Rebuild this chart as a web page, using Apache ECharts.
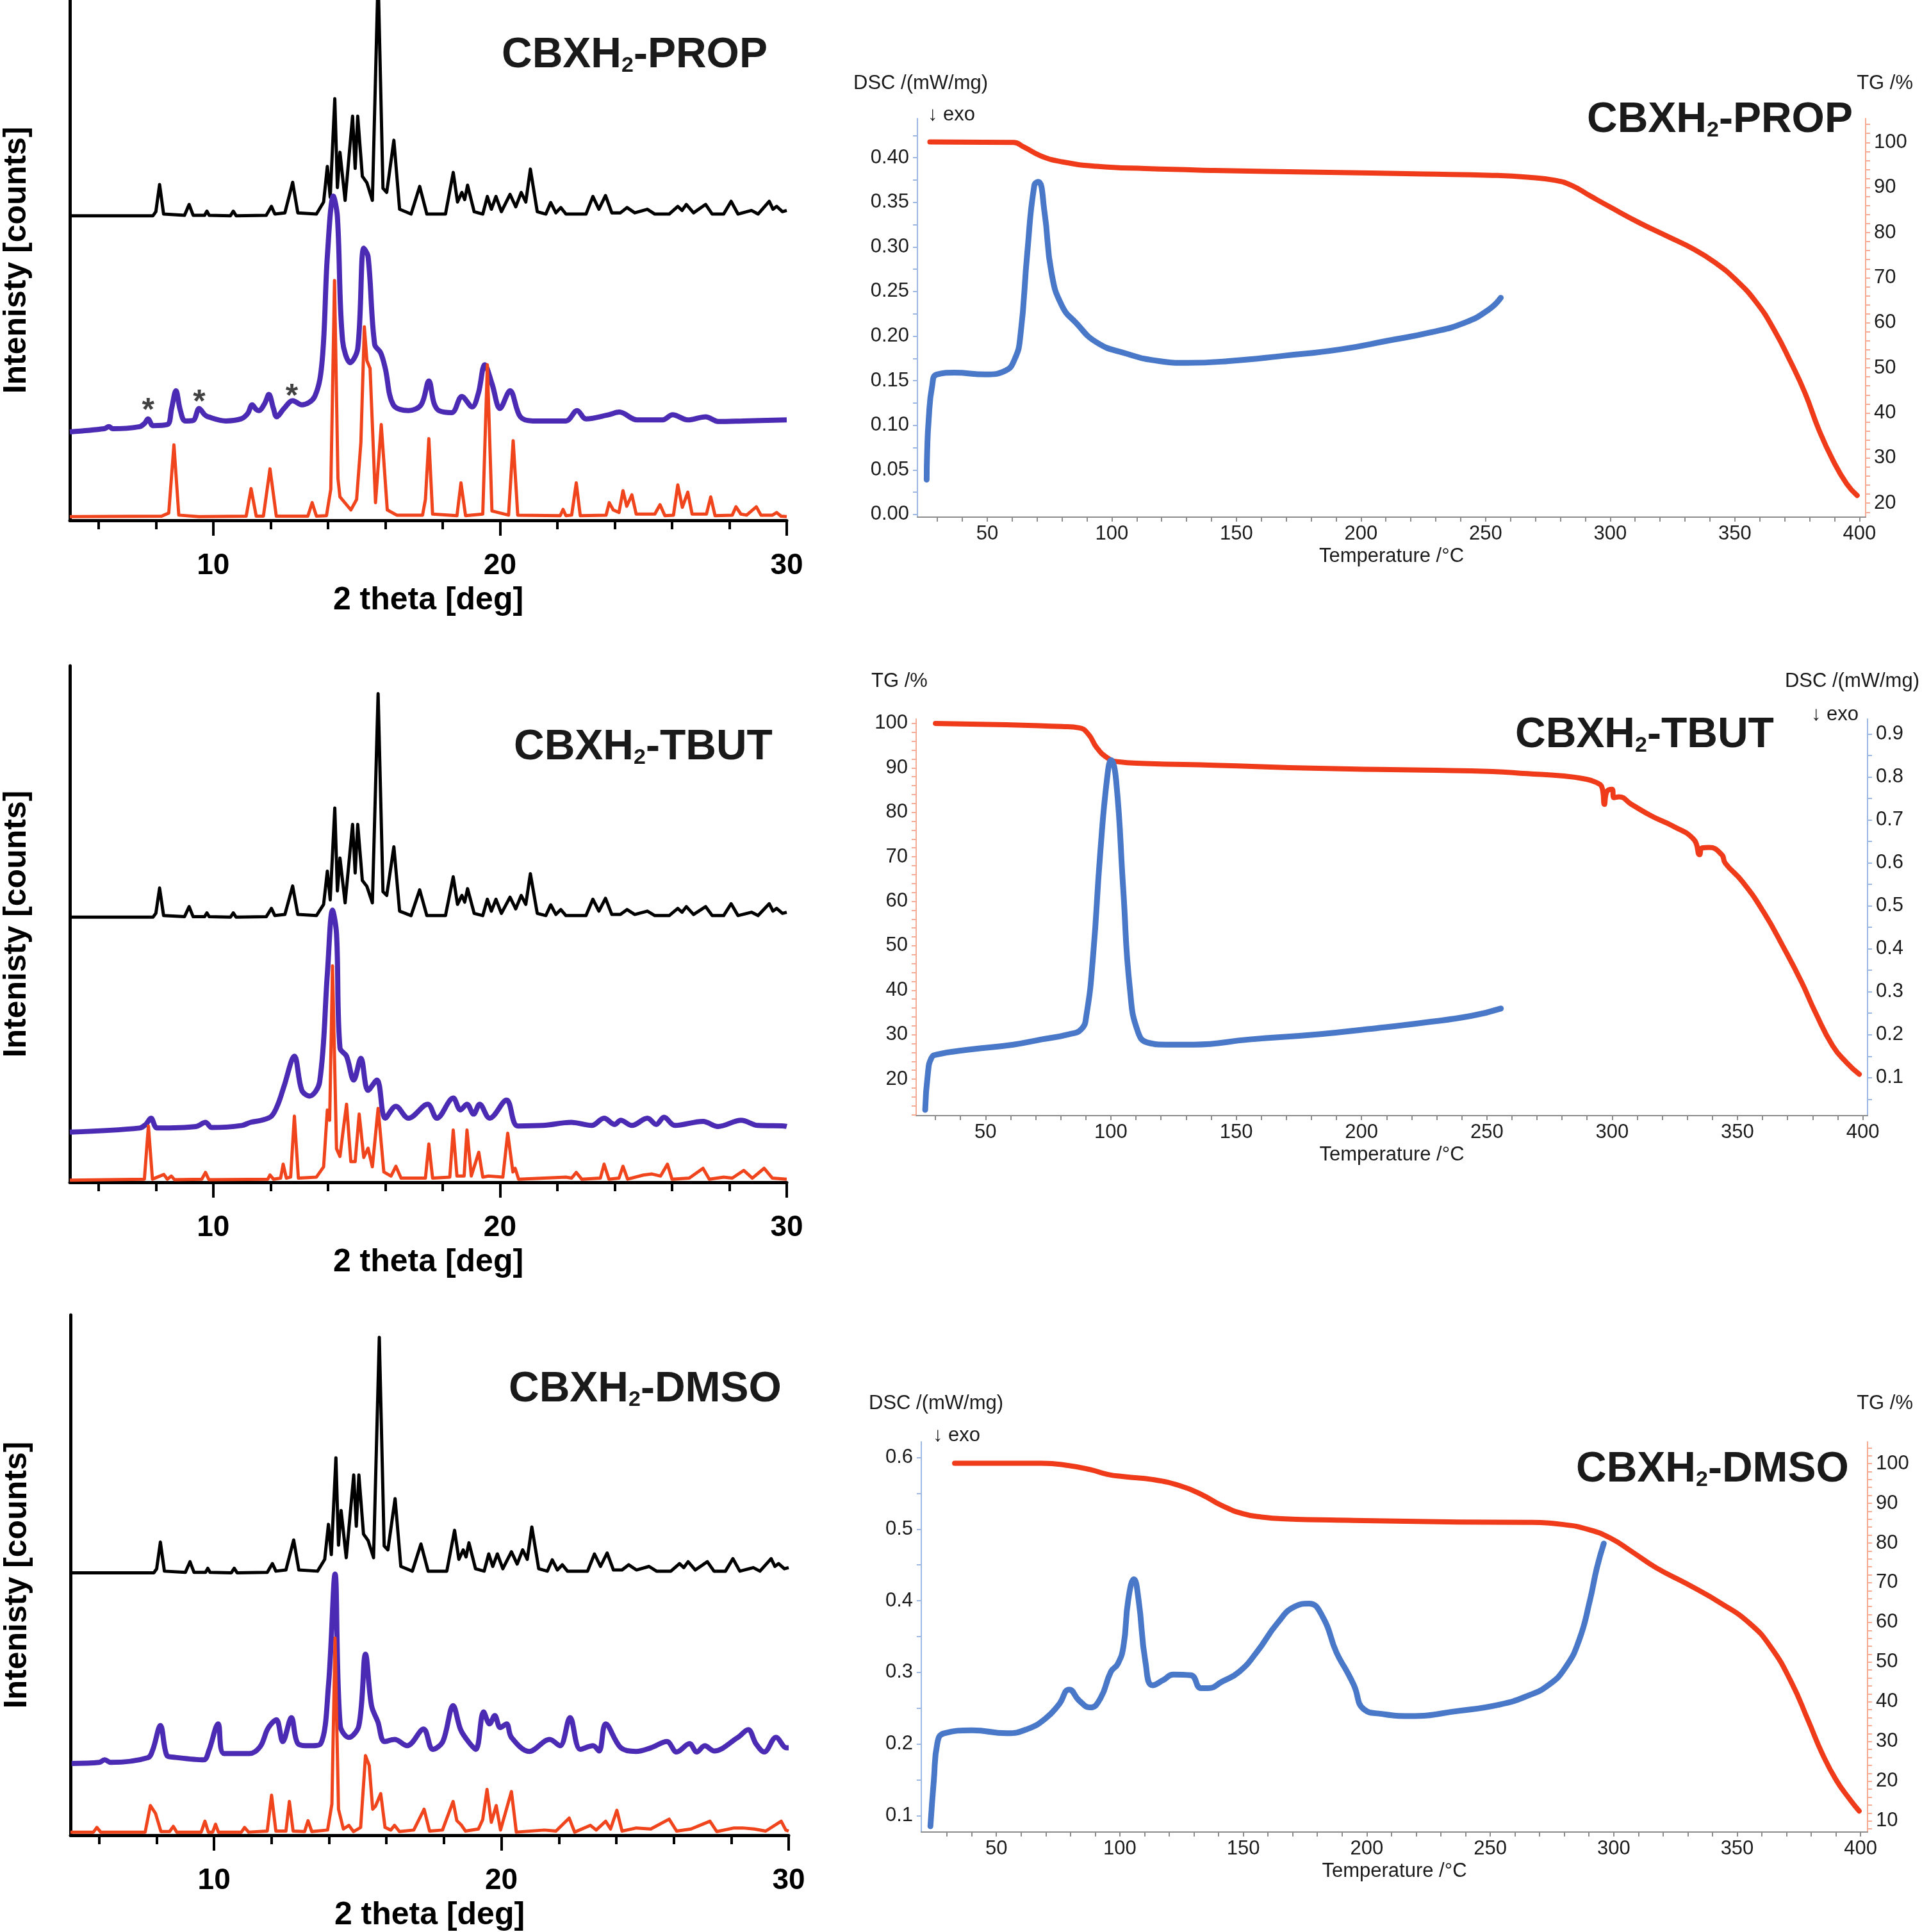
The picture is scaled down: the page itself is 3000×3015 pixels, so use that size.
<!DOCTYPE html>
<html><head><meta charset="utf-8">
<script src="https://cdn.jsdelivr.net/npm/echarts@6/dist/echarts.min.js"></script>
<style>html,body{margin:0;padding:0;background:#fff}#c{width:3000px;height:3015px}</style>
</head><body><div id="c"></div>
<script>
// ---------------- DATA ----------------
// tick labels / tick positions
const xrdMinorTicks = [6,8,10,12,14,16,18,20,22,24,26,28,30];
const xrdMajorTicks = [10,20,30];
const tempLabels = [50,100,150,200,250,300,350,400];
const tempTicks = [30,40,50,60,70,80,90,100,110,120,130,140,150,160,170,180,190,200,210,220,230,240,250,260,270,280,290,300,310,320,330,340,350,360,370,380,390,400];
const dscLabelsProp = [0,0.05,0.10,0.15,0.20,0.25,0.30,0.35,0.40];
const dscLabelsTbut = [0.1,0.2,0.3,0.4,0.5,0.6,0.7,0.8,0.9];
const dscLabelsDmso = [0.1,0.2,0.3,0.4,0.5,0.6];
const tgLabelsProp = [20,30,40,50,60,70,80,90,100];
const tgLabelsTbut = [20,30,40,50,60,70,80,90,100];
const tgLabelsDmso = [10,20,30,40,50,60,70,80,90,100];

// PXRD: reference (black) pattern, intensity relative to its own baseline (top peak = 100)
const blackRef = [[5,0.3],[7.9,0.3],[8.0,2],[8.13,13.3],[8.27,1],[9.0,0.5],[9.16,5],[9.3,0.5],[9.7,0.5],[9.78,2.2],[9.86,0.5],[10.6,0.3],[10.7,2.2],[10.8,0.3],[11.85,0.5],[12.03,4.2],[12.15,1],[12.5,1.5],[12.77,14.2],[12.95,1.5],[13.6,1],[13.85,6],[13.98,20.8],[14.08,8],[14.24,49],[14.33,12],[14.42,26.7],[14.6,6.7],[14.86,41.7],[14.95,20],[15.04,41.7],[15.2,16.7],[15.36,14],[15.55,6.7],[15.75,100],[15.92,11.7],[16.05,10],[16.3,31.7],[16.5,3],[16.9,1],[17.2,12.5],[17.45,1],[18.1,1],[18.37,18.3],[18.52,6],[18.67,10],[18.77,7],[18.87,13],[19.1,2],[19.4,1],[19.56,8.3],[19.7,3],[19.86,8.3],[20.05,2],[20.35,9.2],[20.55,4],[20.74,10],[20.9,6],[21.06,19.7],[21.3,2],[21.6,1],[21.77,5.8],[21.95,1.5],[22.12,3.7],[22.3,1],[23.0,1],[23.24,8.3],[23.45,3],[23.68,8.7],[23.9,1.5],[24.2,1.5],[24.43,3.7],[24.7,1.5],[25.14,3],[25.4,1],[25.9,1],[26.2,4.2],[26.35,2.5],[26.5,5],[26.75,1.5],[27.17,5],[27.4,1],[27.8,1],[28.06,6.3],[28.3,1],[28.77,2.5],[29.0,1],[29.39,6.3],[29.52,3],[29.65,4.2],[29.85,2],[30,2.5]];

// PXRD panel traces (stacked intensity, arbitrary units 0..1000 of each panel)
const purpleProp = [[5.0,170],[6.2,176],[6.36,180],[6.5,176],[7.43,180],[7.6,186],[7.73,195],[7.9,182],[8.4,184],[8.55,215],[8.70,249],[8.85,212],[9.02,191],[9.3,192],[9.51,215],[9.7,203],[9.82,199],[10.44,191],[10.97,195],[11.2,205],[11.36,222],[11.5,213],[11.59,211],[11.8,225],[11.94,242],[12.1,215],[12.21,199],[12.47,215],[12.77,230],[13.09,222],[13.54,238],[13.80,307],[13.98,507],[14.19,623],[14.33,584],[14.51,346],[14.78,303],[15.04,330],[15.25,523],[15.40,507],[15.63,338],[15.84,322],[16.0,292],[16.28,222],[16.81,211],[17.25,222],[17.52,268],[17.7,225],[17.87,211],[18.32,207],[18.67,238],[19.03,218],[19.25,245],[19.47,299],[19.73,261],[20.0,215],[20.35,249],[20.71,199],[21.15,191],[22.3,191],[22.69,211],[23.0,195],[23.8,203],[24.16,208],[24.78,193],[25.67,193],[26.02,203],[26.55,193],[27.17,199],[27.61,190],[28.5,191],[30,193]];
const redProp = [[5,7],[8.2,8],[8.45,14],[8.63,145],[8.8,10],[9.5,7],[11.15,8],[11.32,61],[11.5,8],[11.75,8],[11.98,99],[12.2,8],[13.3,8],[13.45,34],[13.6,8],[13.95,9],[14.1,60],[14.23,461],[14.35,80],[14.42,45],[14.8,20],[15.0,40],[15.15,150],[15.27,372],[15.36,307],[15.47,292],[15.66,34],[15.86,184],[16.07,20],[16.4,10],[17.3,10],[17.4,40],[17.52,157],[17.65,12],[18.5,9],[18.64,72],[18.8,9],[19.4,12],[19.56,299],[19.72,18],[20.3,10],[20.46,153],[20.62,10],[22.1,9],[22.2,21],[22.3,9],[22.5,10],[22.66,72],[22.8,9],[23.7,10],[23.81,34],[23.95,20],[24.15,15],[24.29,57],[24.42,27],[24.6,49],[24.75,12],[25.4,12],[25.58,30],[25.75,9],[26.05,10],[26.2,68],[26.36,25],[26.55,54],[26.7,12],[27.2,12],[27.35,45],[27.5,9],[28.1,10],[28.23,26],[28.4,12],[28.6,10],[28.94,26],[29.1,10],[29.5,10],[29.65,15],[29.8,8],[30,7]];
const starsProp = [[7.73,222],[9.51,238],[12.74,249]];

const purpleTbut = [[5.0,97],[7.43,105],[7.65,112],[7.83,124],[8.05,105],[9.4,108],[9.73,116],[9.95,106],[11.0,110],[11.3,116],[11.68,120],[12.03,128],[12.25,150],[12.47,186],[12.83,244],[13.09,178],[13.36,167],[13.71,194],[13.98,403],[14.16,527],[14.3,481],[14.42,260],[14.65,244],[14.9,198],[15.15,240],[15.4,178],[15.71,198],[16.0,124],[16.37,147],[16.81,124],[17.48,151],[17.8,124],[18.37,163],[18.62,140],[18.85,151],[19.08,132],[19.29,151],[19.64,124],[20.23,159],[20.62,109],[21.5,110],[22.48,116],[23.2,110],[23.63,124],[24.0,112],[24.21,120],[24.6,110],[25.14,124],[25.45,112],[25.72,126],[26.1,110],[27.08,118],[27.6,108],[28.41,120],[29.0,110],[29.9,109],[30,108]];
const redTbut = [[5,4],[7.6,6],[7.74,109],[7.88,6],[8.28,15],[8.4,6],[8.54,12],[8.65,5],[9.6,6],[9.73,19],[9.85,5],[11.9,6],[11.98,14],[12.1,6],[12.35,8],[12.44,35],[12.55,8],[12.7,10],[12.83,128],[12.97,8],[13.6,10],[13.85,30],[13.98,140],[14.06,120],[14.16,419],[14.3,65],[14.42,50],[14.52,95],[14.65,151],[14.8,40],[14.95,40],[15.09,132],[15.25,48],[15.4,66],[15.55,30],[15.75,143],[15.95,20],[16.2,12],[16.37,31],[16.55,8],[17.4,8],[17.52,74],[17.65,8],[18.25,10],[18.37,101],[18.5,12],[18.6,12],[18.75,12],[18.85,101],[19.0,12],[19.26,58],[19.4,10],[19.6,12],[20.1,10],[20.27,95],[20.45,20],[20.53,27],[20.65,6],[22.3,10],[22.5,8],[22.66,19],[22.85,6],[23.5,8],[23.63,35],[23.8,6],[24.15,8],[24.29,31],[24.45,6],[25.0,14],[25.3,16],[25.6,12],[25.84,35],[26.0,6],[26.6,8],[27.08,27],[27.3,6],[27.8,10],[28.1,8],[28.5,23],[28.8,8],[29.21,27],[29.5,8],[30,6]];

const purpleDmso = [[5.04,138],[6.0,140],[6.19,145],[6.4,140],[7.69,149],[7.87,165],[8.13,211],[8.36,153],[8.6,150],[9.64,145],[9.82,163],[10.14,214],[10.35,157],[11.23,157],[11.6,170],[11.85,203],[12.0,215],[12.17,222],[12.39,180],[12.69,226],[12.92,176],[13.31,172],[13.71,176],[13.98,287],[14.21,502],[14.39,211],[14.69,188],[15.04,211],[15.27,348],[15.48,249],[15.7,218],[15.93,180],[16.28,184],[16.72,172],[17.29,204],[17.61,165],[17.96,180],[18.32,249],[18.58,203],[18.85,180],[19.11,165],[19.38,237],[19.59,214],[19.77,230],[19.96,207],[20.18,214],[20.35,188],[20.97,161],[21.68,184],[22.04,172],[22.39,226],[22.75,165],[23.19,172],[23.4,162],[23.63,214],[24.16,168],[24.69,161],[25.2,168],[25.76,180],[26.1,160],[26.55,176],[26.8,160],[27.08,172],[27.4,162],[28.23,188],[28.59,203],[28.86,176],[29.15,160],[29.56,188],[29.92,168],[30,168]];
const redDmso = [[5,6],[5.8,6],[5.92,15],[6.05,6],[7.6,6],[7.78,57],[7.96,42],[8.15,7],[8.45,7],[8.58,17],[8.7,6],[9.55,6],[9.68,27],[9.8,6],[9.95,6],[10.05,21],[10.15,6],[10.95,6],[11.06,15],[11.2,6],[11.85,8],[12.0,77],[12.15,8],[12.5,8],[12.62,65],[12.75,8],[13.15,7],[13.27,28],[13.4,7],[13.95,10],[14.1,60],[14.21,379],[14.33,50],[14.5,12],[14.69,19],[14.85,7],[15.1,15],[15.27,153],[15.4,134],[15.52,50],[15.62,56],[15.8,80],[15.95,15],[16.15,10],[16.28,19],[16.45,7],[16.95,10],[17.31,50],[17.5,8],[17.95,10],[18.32,65],[18.45,28],[18.6,20],[18.75,8],[19.2,12],[19.35,30],[19.5,88],[19.65,25],[19.82,57],[19.97,10],[20.35,84],[20.52,6],[21.5,10],[21.9,8],[22.36,33],[22.55,6],[23.1,19],[23.3,10],[23.63,27],[23.8,12],[24.02,48],[24.2,8],[24.7,14],[25.2,12],[25.84,31],[26.1,8],[26.6,12],[27.26,27],[27.5,7],[28.1,14],[28.4,14],[28.8,12],[29.2,8],[29.74,27],[29.9,10],[30,8]];

// DSC (mW/mg) and TG (%) vs temperature (°C)
const dscProp = [[25.7,0.039],[25.9,0.07],[26.5,0.106],[27.9,0.144],[29.8,0.157],[36.8,0.159],[49.3,0.157],[57.1,0.161],[61.0,0.174],[63.3,0.200],[66.1,0.294],[68.9,0.369],[70.5,0.373],[73.0,0.339],[75.8,0.271],[80.0,0.234],[85.6,0.215],[93.9,0.193],[105.1,0.181],[119.0,0.172],[130.2,0.170],[146.9,0.172],[169.2,0.178],[191.5,0.185],[211.0,0.195],[227.7,0.204],[241.6,0.215],[251.4,0.230],[256.1,0.243]];
const tgProp = [[27.0,100.1],[60.5,100],[64.7,99],[71.6,97],[80,95.7],[93.9,94.7],[113.4,94.2],[141.3,93.8],[183.1,93.4],[224.9,93.0],[252.8,92.7],[266.7,92.3],[277.9,91.6],[284.8,90.4],[291.8,88.2],[300.2,85.6],[311.3,82.3],[322.5,79.3],[333.6,76.3],[342,73.4],[350.3,69.6],[358.7,64.5],[365.7,58.5],[372.6,51.1],[378.2,44.4],[383.8,36.2],[389.4,29.5],[394.9,24.3],[399.1,21.7]];
const dscTbut = [[25.9,0.025],[27.0,0.111],[28.4,0.146],[30.6,0.154],[44.4,0.166],[61.1,0.177],[72.2,0.189],[83.2,0.201],[88.2,0.213],[90.2,0.244],[92.9,0.384],[95.7,0.619],[98.5,0.798],[100.1,0.839],[102.1,0.791],[104.9,0.541],[107.6,0.306],[110.9,0.205],[115.1,0.181],[122,0.177],[133.1,0.177],[155.3,0.189],[183,0.201],[202.4,0.213],[224.6,0.228],[243.9,0.244],[255.6,0.261]];
const tgTbut = [[30.0,100],[58.3,99.7],[80.5,99.3],[87.4,99],[91,97.6],[94.3,94.6],[98.5,92.3],[102.6,91.4],[113.7,91],[141.4,90.6],[183,89.9],[224.6,89.5],[252.3,89.2],[266.1,88.7],[280,88.2],[288.3,87.6],[293.8,86.7],[296,85.5],[296.9,81.8],[298,84.8],[299.9,85.2],[300.8,83.3],[302.7,83.5],[307.7,81.8],[316,79.1],[324.3,76.9],[332.6,73.9],[334.9,70.5],[335.9,72],[338.7,72.1],[343.7,70.5],[345.1,68.6],[352,64.4],[360.3,57.7],[368.6,49.4],[375.6,41.8],[381.1,35.0],[388,27.5],[393.6,23.7],[398.6,21.1]];
const dscDmso = [[23.3,0.085],[24.7,0.150],[26.1,0.201],[28.9,0.215],[40.2,0.219],[54.2,0.215],[62.7,0.221],[69.7,0.235],[75.3,0.255],[79.5,0.276],[83.7,0.260],[88,0.251],[92.2,0.264],[96.4,0.301],[99.2,0.312],[101.5,0.337],[103.4,0.401],[105.7,0.430],[107.6,0.401],[110.4,0.314],[113.3,0.282],[117.5,0.289],[121.7,0.297],[128.7,0.296],[132.9,0.278],[135.7,0.278],[141.4,0.287],[148.4,0.301],[155.4,0.328],[163.9,0.369],[170.9,0.392],[176.5,0.396],[182.1,0.378],[187.7,0.328],[192,0.301],[194.8,0.282],[199,0.248],[206,0.242],[217.3,0.239],[236.9,0.246],[253.8,0.255],[265,0.267],[273.5,0.282],[280.5,0.307],[286.1,0.346],[290.4,0.401],[293.2,0.446],[296,0.480]];
const tgDmso = [[33.1,100.1],[68.3,100.1],[79.5,99.5],[88,98.5],[95,97.3],[102,96.7],[113.3,96.0],[124.5,94.4],[132.9,92.3],[141.4,89.4],[149.8,87.4],[156.8,86.6],[166.7,86.1],[194.8,85.7],[236.9,85.3],[265,85.2],[279.1,84.7],[290.4,83.3],[298.8,81.2],[307.2,77.9],[317.1,73.8],[329.7,69.7],[343.8,64.7],[355,59.8],[363.4,54.0],[371.9,45],[378.9,35.1],[384.5,26.9],[390.1,20.3],[395.8,15.3],[399.4,12.5]];

// ---------------- LAYOUT / STYLE ----------------
const FONT = 'Liberation Sans';
const C_BLACK = '#000000', C_PURPLE = '#4b2bb3', C_RED = '#f0441c';
const C_BLUE = '#4a78c8', C_TG = '#ef3b1a';
const AX_BLUE = '#9db8e3', AX_RED = '#f5ab94', AX_GRAY = '#8c8c8c';

function steps(a, b, s) { const r = []; for (let v = a; v <= b + 1e-9; v += s) r.push(+v.toFixed(4)); return r; }

// black pattern stacking: [offset, scale] per panel
const blackStack = [[584, 4.62], [512, 4.34], [503, 4.54]];

const grids = [
  {left:106, top:0, width:1122, height:812},
  {left:106, top:1039, width:1122, height:806},
  {left:110, top:2052, width:1121, height:812},
  {left:1432, top:185, width:1480, height:622},
  {left:1430, top:1122, width:1485, height:619},
  {left:1438, top:2250, width:1477, height:609}
];

const xAxes = [], yAxes = [];
for (let g = 0; g < 3; g++) {
  xAxes.push({type:'value', gridIndex:g, min:5, max:30, position:'bottom',
    axisLine:{onZero:false, lineStyle:{color:'#000', width:5}},
    axisTick:{customValues:xrdMinorTicks, length:14, lineStyle:{color:'#000', width:4}},
    axisLabel:{show:false}, splitLine:{show:false}});
  xAxes.push({type:'value', gridIndex:g, min:5, max:30, position:'bottom',
    axisLine:{show:false, onZero:false},
    axisTick:{customValues:xrdMajorTicks, length:24, lineStyle:{color:'#000', width:4}},
    axisLabel:{customValues:xrdMajorTicks, fontSize:46, fontWeight:'bold', color:'#000', fontFamily:FONT, margin:48},
    splitLine:{show:false},
    name:'2 theta [deg]', nameLocation:'middle', nameGap:100,
    nameTextStyle:{fontSize:50, fontWeight:'bold', color:'#000', fontFamily:FONT}});
  yAxes.push({type:'value', gridIndex:g, min:0, max:1000,
    axisLine:{show:true, onZero:false, lineStyle:{color:'#000', width:5}},
    axisTick:{show:false}, axisLabel:{show:false}, splitLine:{show:false},
    name:'Intenisty [counts]', nameLocation:'middle', nameGap:58,
    nameTextStyle:{fontSize:50, fontWeight:'bold', color:'#000', fontFamily:FONT}});
}
const tempRanges = [[22, 402.5], [22.3, 401.9], [19.6, 402.8]];
for (let i = 0; i < 3; i++) {
  xAxes.push({type:'value', gridIndex:3+i, min:tempRanges[i][0], max:tempRanges[i][1],
    axisLine:{onZero:false, lineStyle:{color:AX_GRAY, width:2}},
    axisTick:{customValues:tempTicks, length:7, lineStyle:{color:AX_GRAY, width:2}},
    axisLabel:{customValues:tempLabels, fontSize:31, color:'#1a1a1a', fontFamily:FONT, margin:11},
    splitLine:{show:false},
    name:'Temperature /°C', nameLocation:'middle', nameGap:46,
    nameTextStyle:{fontSize:31, color:'#1a1a1a', fontFamily:FONT}});
}
function yAx(g, pos, min, max, color, labels, ticks, dec) {
  return {type:'value', gridIndex:g, position:pos, min, max,
    axisLine:{show:true, onZero:false, lineStyle:{color, width:2}},
    axisTick:{show:true, customValues:ticks, length:7, lineStyle:{color, width:2}},
    axisLabel:{customValues:labels, fontSize:31, color:'#1a1a1a', fontFamily:FONT, margin:13,
      formatter:(v)=>v.toFixed(dec)},
    splitLine:{show:false}};
}
// DSC panel 1 (PROP): left DSC, right TG
yAxes.push(yAx(3, 'left', -0.003, 0.444, AX_BLUE, dscLabelsProp, steps(0, 0.425, 0.025), 2));
yAxes.push(yAx(3, 'right', 16.9, 105.3, AX_RED, tgLabelsProp, steps(18, 104, 2), 0));
// DSC panel 2 (TBUT): left TG, right DSC
yAxes.push(yAx(4, 'left', 11.8, 101, AX_RED, tgLabelsTbut, steps(12, 100, 2), 0));
yAxes.push(yAx(4, 'right', 0.0117, 0.935, AX_BLUE, dscLabelsTbut, steps(0.05, 0.9, 0.05), 1));
// DSC panel 3 (DMSO): left DSC, right TG
yAxes.push(yAx(5, 'left', 0.077, 0.622, AX_BLUE, dscLabelsDmso, steps(0.1, 0.6, 0.05), 1));
yAxes.push(yAx(5, 'right', 7.2, 105.5, AX_RED, tgLabelsDmso, steps(8, 104, 2), 0));

function xrdSeries(g, purple, red) {
  const [off, sc] = blackStack[g];
  return [
    {type:'line', xAxisIndex:2*g, yAxisIndex:g, data:blackRef.map(p=>[p[0], off + sc*p[1]]), showSymbol:false, lineStyle:{color:C_BLACK, width:5, join:'round'}, z:3},
    {type:'line', xAxisIndex:2*g, yAxisIndex:g, data:purple, showSymbol:false, smooth:0.35, lineStyle:{color:C_PURPLE, width:8, join:'round'}, z:4},
    {type:'line', xAxisIndex:2*g, yAxisIndex:g, data:red, showSymbol:false, lineStyle:{color:C_RED, width:5, join:'round'}, z:5}
  ];
}
function line(xi, yi, data, color, width) {
  return {type:'line', xAxisIndex:xi, yAxisIndex:yi, data, showSymbol:false, smooth:0.5,
    lineStyle:{color, width, join:'round', cap:'round'}, z:4};
}
const series = [
  ...xrdSeries(0, purpleProp, redProp),
  ...xrdSeries(1, purpleTbut, redTbut),
  ...xrdSeries(2, purpleDmso, redDmso),
  {type:'scatter', xAxisIndex:0, yAxisIndex:0, data:starsProp, symbolSize:2, itemStyle:{color:'rgba(0,0,0,0)'},
    label:{show:true, formatter:'*', position:'inside', fontSize:50, fontWeight:'bold', color:'#111', fontFamily:FONT, offset:[0,10]}, z:6},
  line(6, 4, tgProp, C_TG, 8),
  line(6, 3, dscProp, C_BLUE, 9),
  line(7, 5, tgTbut, C_TG, 8),
  line(7, 6, dscTbut, C_BLUE, 9),
  line(8, 8, tgDmso, C_TG, 8),
  line(8, 7, dscDmso, C_BLUE, 9)
];

function title(pre, post, left, top) {
  return {text:'{a|' + pre + '}{s|2}{a|' + post + '}', left, top, padding:0,
    textStyle:{rich:{
      a:{fontSize:66, fontWeight:'bold', fontFamily:FONT, color:'#1a1a1a', lineHeight:66, verticalAlign:'top'},
      s:{fontSize:34, fontWeight:'bold', fontFamily:FONT, color:'#1a1a1a', lineHeight:34, padding:[40,0,0,0], verticalAlign:'bottom'}
    }}};
}
const titles = [
  title('CBXH', '-PROP', 783, 54),
  title('CBXH', '-TBUT', 802, 1134),
  title('CBXH', '-DMSO', 794, 2136),
  title('CBXH', '-PROP', 2477, 155),
  title('CBXH', '-TBUT', 2365, 1115),
  title('CBXH', '-DMSO', 2460, 2261)
];

function txt(text, x, y, align) {
  return {type:'text', x, y, style:{text, fontSize:31, fontFamily:FONT, fill:'#1a1a1a', align, verticalAlign:'middle', textAlign:align, textVerticalAlign:'middle'}};
}
const graphics = [
  txt('DSC /(mW/mg)', 1332, 130, 'left'), txt('TG /%', 2986, 130, 'right'), txt('↓ exo', 1448, 179, 'left'),
  txt('TG /%', 1360, 1063, 'left'), txt('DSC /(mW/mg)', 2996, 1063, 'right'), txt('↓ exo', 2827, 1115, 'left'),
  txt('DSC /(mW/mg)', 1356, 2190, 'left'), txt('TG /%', 2986, 2190, 'right'), txt('↓ exo', 1456, 2240, 'left')
];

const chart = echarts.init(document.getElementById('c'), null, {renderer:'canvas', width:3000, height:3015});
chart.setOption({
  backgroundColor:'#ffffff',
  animation:false,
  textStyle:{fontFamily:FONT},
  title:titles,
  grid:grids,
  xAxis:xAxes,
  yAxis:yAxes,
  series,
  graphic:graphics
});
</script></body></html>
